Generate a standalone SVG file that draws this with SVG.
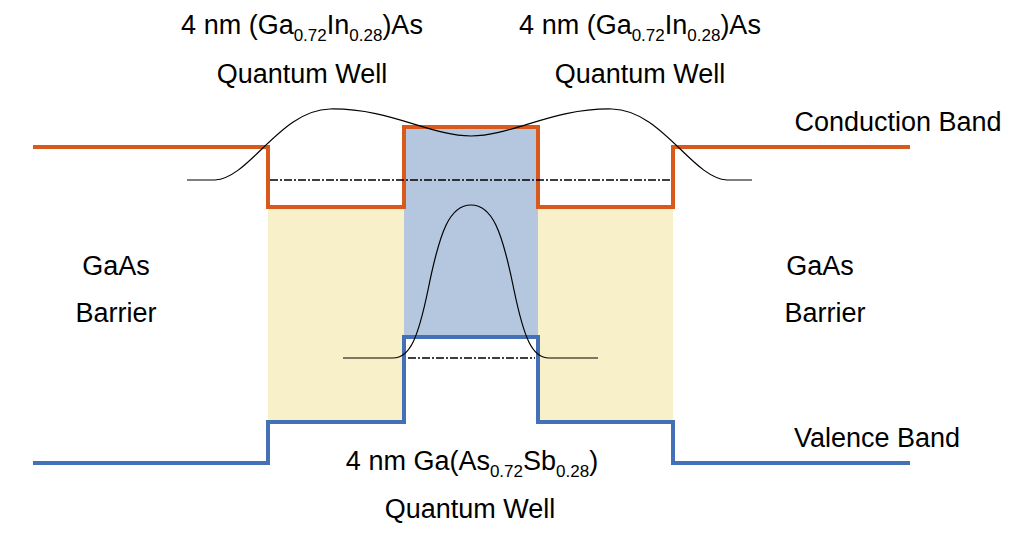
<svg xmlns="http://www.w3.org/2000/svg" width="1030" height="540" viewBox="0 0 1030 540">
<style>
text{font-family:"Liberation Sans",Arial,sans-serif;font-size:27px;fill:#000;text-anchor:middle}
.sub{font-size:17px}
.wf{fill:none;stroke:#000;stroke-width:1.2}
.dash{fill:none;stroke:#000;stroke-width:1.3;stroke-dasharray:8 2 2 2}
</style>
<rect width="1030" height="540" fill="#fff"/>
<g id="fills">
<rect x="268" y="207" width="136" height="215" fill="#f8f0c8"/>
<rect x="538" y="207" width="135" height="215" fill="#f8f0c8"/>
<rect x="404" y="127" width="134" height="210" fill="#b4c7de"/>
</g>
<g id="connectors">
<polyline points="33,147 268,147 268,207 404,207 404,127 538,127 538,207 673,207 673,147 910,147" fill="none" stroke="#d9591c" stroke-width="4"/>
<polyline points="33,463 268,463 268,422 404,422 404,337 538,337 538,422 673,422 673,463 910,463" fill="none" stroke="#4470b8" stroke-width="4"/>
<line class="dash" x1="270" y1="180" x2="672" y2="180"/>
<line class="dash" x1="408" y1="358" x2="535" y2="358"/>
<path class="wf" d="M187,180 L215,180 C250,178 280,110 330,109 C390,108 430,136 471,136 C512,136 552,108 612,109 C662,110 692,178 727,180 L752,180"/>
<path class="wf" d="M343,358 L393,358 C410,358 418,338 428,290 C440,230 450,205 471,205 C492,205 502,230 514,290 C524,338 532,358 549,358 L598,358"/>
</g>
<g id="labels">
<text x="302" y="34">4 nm (Ga<tspan class="sub" dy="7">0.72</tspan><tspan dy="-7">In</tspan><tspan class="sub" dy="7">0.28</tspan><tspan dy="-7">)As</tspan></text>
<text x="302" y="83">Quantum Well</text>
<text x="640" y="34">4 nm (Ga<tspan class="sub" dy="7">0.72</tspan><tspan dy="-7">In</tspan><tspan class="sub" dy="7">0.28</tspan><tspan dy="-7">)As</tspan></text>
<text x="640" y="83">Quantum Well</text>
<text x="898" y="131">Conduction Band</text>
<text x="116" y="275">GaAs</text>
<text x="116" y="322">Barrier</text>
<text x="820" y="275">GaAs</text>
<text x="825" y="322">Barrier</text>
<text x="877" y="447">Valence Band</text>
<text x="472" y="470">4 nm Ga(As<tspan class="sub" dy="7">0.72</tspan><tspan dy="-7">Sb</tspan><tspan class="sub" dy="7">0.28</tspan><tspan dy="-7">)</tspan></text>
<text x="470" y="518">Quantum Well</text>
</g>
</svg>
